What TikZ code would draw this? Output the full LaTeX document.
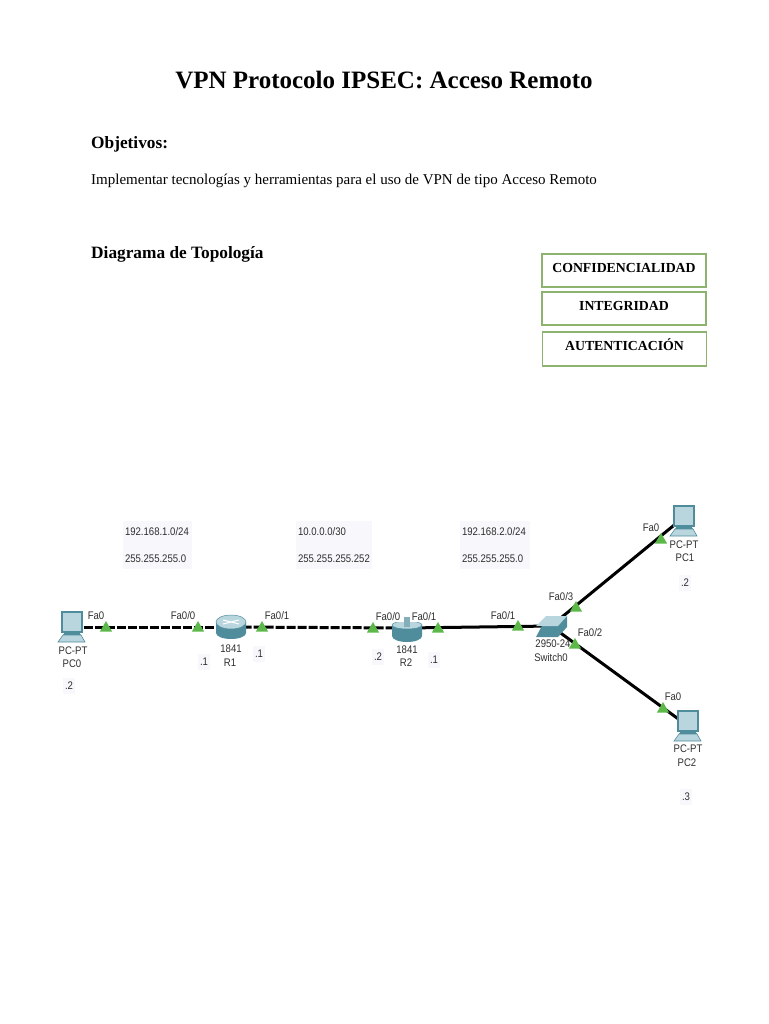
\documentclass[tikz,border=0pt]{standalone}
\usepackage{xcolor}
\usepackage{fontspec}
\setmainfont{Liberation Serif}
\newfontfamily\labelfont[FakeStretch=0.87]{Liberation Sans}
\usetikzlibrary{shapes.geometric}
\definecolor{boxgreen}{HTML}{8DB36F}
\definecolor{linkgreen}{HTML}{5DB84A}
\definecolor{devteal}{HTML}{4F8C9C}
\definecolor{devlight}{HTML}{B9D6DE}
\definecolor{labelgray}{HTML}{2E2E2E}
\definecolor{labelbg}{HTML}{F8F8FC}
\tikzset{
  title/.style={font=\bfseries\fontsize{25}{29}\selectfont},
  heading/.style={anchor=west,inner sep=0pt,font=\bfseries\fontsize{17.3}{20}\selectfont},
  bodytext/.style={anchor=west,inner sep=0pt,font=\fontsize{15}{18}\selectfont},
  goalbox/.style={draw=boxgreen,line width=1.2pt,minimum width=164pt,inner sep=0pt,text height=9pt,text depth=6pt,font=\bfseries\fontsize{13.8}{16}\selectfont},
  iflabel/.style={inner sep=0pt,text=labelgray,font=\labelfont\fontsize{11}{12}\selectfont},
  netlabel/.style={fill=labelbg,inner sep=0pt,align=left,text=labelgray,minimum height=48pt,font=\labelfont\fontsize{11}{27}\selectfont},
  hostlabel/.style={fill=labelbg,inner sep=2pt,minimum height=16pt,text=labelgray,font=\labelfont\fontsize{11}{12}\selectfont},
  linkup/.style={regular polygon,regular polygon sides=3,fill=linkgreen,inner sep=0pt,minimum size=14pt},
  devnode/.style={inner sep=0pt,minimum size=1pt},
  seriallink/.style={line width=3pt,dash pattern=on 9pt off 2pt},
  straightlink/.style={line width=3pt},
  pc/.pic={
    \fill[devlight,draw=devteal,line width=2.4pt] (-10,-10) rectangle (10,10);
    \fill[devteal] (-7,10) -- (7,10) -- (9,13) -- (-9,13) -- cycle;
    \fill[devlight,draw=devteal,line width=.6pt] (-9,13) -- (9,13) -- (13,20) -- (-14,20) -- cycle;
  },
  routerbody/.pic={
    \fill[devteal] (-15,-5) -- (-15,6) arc[start angle=180,end angle=360,x radius=15,y radius=-6] -- (15,-5) -- cycle;
  },
  routertop/.pic={
    \fill[devlight,draw=devteal,line width=.5pt] (0,-5) ellipse[x radius=15,y radius=7];
    \draw[white,line width=1pt] (-8,-7) -- (8,-3) (-8,-3) -- (8,-7);
  }
}
\begin{document}
\begin{tikzpicture}[x=1pt,y=-1pt]
\useasboundingbox (0,0) rectangle (768,1024);
% page text
\node[title] (pagetitle) at (384,80) {VPN Protocolo IPSEC: Acceso Remoto};
\node[heading] (objetivos) at (91,144) {Objetivos:};
\node[bodytext] (objtext) at (91,181) {Implementar tecnologías y herramientas para el uso de VPN de tipo Acceso Remoto};
\node[heading] (diagrama) at (91,254) {Diagrama de Topología};
% boxes
\node[goalbox,minimum height=33pt] (conf) at (624,270.5) {CONFIDENCIALIDAD};
\node[goalbox,minimum height=33pt] (integ) at (624,308.5) {INTEGRIDAD};
\node[goalbox,minimum height=34pt] (auten) at (624.5,349) {AUTENTICACIÓN};
% networks
\node[netlabel,minimum width=69pt,text width=65pt] (net1) at (157.5,545) {192.168.1.0/24\\255.255.255.0};
\node[netlabel,minimum width=76pt,text width=72pt] (net2) at (334,545) {10.0.0.0/30\\255.255.255.252};
\node[netlabel,minimum width=70pt,text width=66pt] (net3) at (495,545) {192.168.2.0/24\\255.255.255.0};
% devices
\node[devnode] (pc0) at (72,627) {};
\node[devnode] (r1) at (231,627) {};
\node[devnode] (r2) at (407,628) {};
\node[devnode] (sw0) at (551,626) {};
\node[devnode] (pc1) at (684,517) {};
\node[devnode] (pc2) at (688,726) {};
% links
\draw[seriallink] (pc0) -- (r1);
\draw[seriallink] (r1) -- (r2);
\draw[straightlink] (r2) -- (sw0);
\draw[straightlink] (sw0) -- (pc1);
\draw[straightlink] (sw0) -- (pc2);
\pic at (72,622) {pc};
\pic at (684,516) {pc};
\pic at (688,721) {pc};
\pic at (231,627) {routerbody};
\pic at (231,627) {routertop};
\pic at (407,630) {routerbody};
\fill[devlight,draw=devteal,line width=.5pt] (407,625) ellipse[x radius=15,y radius=4];
\fill[white] (392,612) rectangle (422,622);
\fill[devteal!70] (404,617) rectangle (410,627);
\fill[devteal] (536,637) -- (544,622) -- (567,616) -- (567,627) -- (558,637) -- cycle;
\fill[devlight] (536,626) -- (546,616) -- (567,616) -- (558,626) -- cycle;
% link lights
\foreach \lx/\ly [count=\li] in {106/628,198/628,262/628,373/629,438/629,518/627,576/608,575/645,661/540,663/709}
  \node[linkup] (up\li) at (\lx,\ly) {};
% interface names
\node[iflabel] (if1) at (96,616) {Fa0};
\node[iflabel] (if2) at (183,616) {Fa0/0};
\node[iflabel] (if3) at (277,616) {Fa0/1};
\node[iflabel] (if4) at (388,617) {Fa0/0};
\node[iflabel] (if5) at (424,617) {Fa0/1};
\node[iflabel] (if6) at (503,616) {Fa0/1};
\node[iflabel] (if7) at (561,597) {Fa0/3};
\node[iflabel] (if8) at (590,633) {Fa0/2};
\node[iflabel] (if9) at (651,528) {Fa0};
\node[iflabel] (if10) at (673,697) {Fa0};
% device names
\node[iflabel] (pc0a) at (73,651) {PC-PT};
\node[iflabel] (pc0b) at (72,664) {PC0};
\node[iflabel] (r1a) at (231,649) {1841};
\node[iflabel] (r1b) at (230,663) {R1};
\node[iflabel] (r2a) at (407,650) {1841};
\node[iflabel] (r2b) at (406,663) {R2};
\node[iflabel] (sw0a) at (553,644) {2950-24};
\node[iflabel] (sw0b) at (551,658) {Switch0};
\node[iflabel] (pc1a) at (684,545) {PC-PT};
\node[iflabel] (pc1b) at (685,558) {PC1};
\node[iflabel] (pc2a) at (688,749) {PC-PT};
\node[iflabel] (pc2b) at (687,763) {PC2};
% host addresses
\node[hostlabel] (h1) at (69,686) {.2};
\node[hostlabel] (h2) at (204,662) {.1};
\node[hostlabel] (h3) at (259,654) {.1};
\node[hostlabel] (h4) at (378,657) {.2};
\node[hostlabel] (h5) at (434,660) {.1};
\node[hostlabel] (h6) at (685,583) {.2};
\node[hostlabel] (h7) at (686,797) {.3};
\end{tikzpicture}
\end{document}
